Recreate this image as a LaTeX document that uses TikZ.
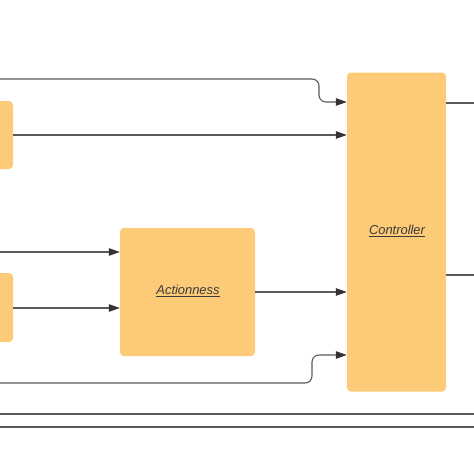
\documentclass[tikz,border=0pt]{standalone}
\usepackage{fontspec}
\setmainfont{Liberation Sans}
\usetikzlibrary{arrows.meta}
\definecolor{boxfill}{HTML}{FDCA78}
\definecolor{linegray}{HTML}{5A5A5A}
\definecolor{tipgray}{HTML}{333333}
\definecolor{textgray}{HTML}{3A3A3A}
\tikzset{
  block/.style={fill=boxfill, draw=none, rounded corners=4pt, inner sep=0pt},
  flow/.style={draw=linegray, line width=1.1pt, -{Triangle[length=11pt,width=7.5pt,color=tipgray]}},
  plain/.style={draw=linegray, line width=1.1pt},
  lbl/.style={font=\fontsize{12.9}{15}\selectfont\itshape, text=textgray}
}
\begin{document}
\begin{tikzpicture}[x=1pt,y=-1pt]
\useasboundingbox (0,0) rectangle (474,474);
\clip (0,0) rectangle (474,474);
% blocks
\node[block, minimum width=99pt, minimum height=319pt] (ctrl) at (396.5,232) {};
\node[lbl] (ctrltxt) at (397,231) {\underline{Controller}};
\node[block, minimum width=135pt, minimum height=128pt] (act) at (187.5,292) {};
\node[lbl] (acttxt) at (188,291) {\underline{Actionness}};
\node[block, minimum width=26pt, minimum height=68pt] (lt) at (0,135) {};
\node[block, minimum width=26pt, minimum height=69pt] (lb) at (0,307.5) {};
% free ends
\coordinate (in1) at (0,79);
\coordinate (in3) at (0,252);
\coordinate (in6) at (0,383);
\coordinate (out1) at (474,103);
\coordinate (out2) at (474,275);
\coordinate (b1l) at (0,414);
\coordinate (b1r) at (474,414);
\coordinate (b2l) at (0,427);
\coordinate (b2r) at (474,427);
% connectors
\draw[flow, rounded corners=7pt] (in1) -- (319,79) -- (319,102) -- (ctrl.west |- 0,102);
\draw[flow] (lt.east |- 0,135) -- (ctrl.west |- 0,135);
\draw[flow] (in3) -- (act.west |- 0,252);
\draw[flow] (lb.east |- 0,308) -- (act.west |- 0,308);
\draw[flow] (act.east |- 0,292) -- (ctrl.west |- 0,292);
\draw[flow, rounded corners=7pt] (in6) -- (312,383) -- (312,355) -- (ctrl.west |- 0,355);
\draw[plain] (ctrl.east |- out1) -- (out1);
\draw[plain] (ctrl.east |- out2) -- (out2);
\draw[plain] (b1l) -- (b1r);
\draw[plain] (b2l) -- (b2r);
\end{tikzpicture}
\end{document}
